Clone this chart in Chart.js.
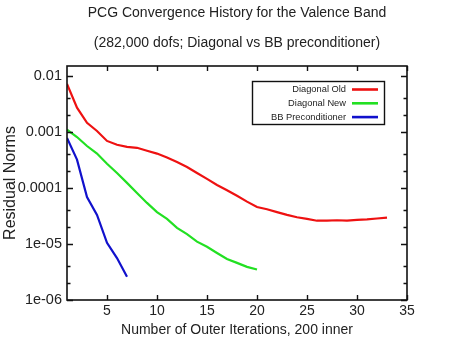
<!DOCTYPE html>
<html>
<head>
<meta charset="utf-8">
<script src="https://cdn.jsdelivr.net/npm/chart.js@4/dist/chart.umd.min.js"></script>
<style>
  html, body { margin: 0; padding: 0; background: #ffffff; }
  canvas { display: block; }
</style>
</head>
<body>
<canvas id="c" width="474" height="339"></canvas>
<script>
// ---- data ----
const oldIter = [1,2,3,4,5,6,7,8,9,10,11,12,13,14,15,16,17,18,19,20,21,22,23,24,25,26,27,28,29,30,31,32,33];
const oldVals = [0.0072,0.0027,0.00145,0.00104,0.00069,0.00059,0.00054,0.00052,0.00046,0.00041,
                 0.00035,0.00029,0.000237,0.000185,0.000145,0.000113,0.0000912,0.0000724,0.0000569,0.0000457,
                 0.0000417,0.000037,0.000033,0.000030,0.000028,0.000026,0.000026,0.0000265,0.000026,0.000027,
                 0.0000275,0.0000285,0.0000295];
const newIter = [1,2,3,4,5,6,7,8,9,10,11,12,13,14,15,16,17,18,19,20];
const newVals = [0.0011,0.00081,0.00056,0.00041,0.00027,0.000185,0.000123,0.000081,0.000054,0.000037,
                 0.000028,0.0000194,0.000015,0.000011,0.0000089,0.0000069,0.0000054,0.0000046,0.0000039,0.0000035];
const bbIter = [1,2,3,4,5,6,7];
const bbVals = [0.00078,0.00032,0.000069,0.000033,0.0000105,0.0000056,0.0000026];

const seriesNames = ['Diagonal Old','Diagonal New','BB Preconditioner'];
const xTickValues = [5,10,15,20,25,30,35];
const yTickValues = [1e-6,1e-5,1e-4,1e-3,1e-2];
const yTickLabels = ['1e-06','1e-05','0.0001','0.001','0.01'];
const yMinorFactors = [2,4];
const titleText = 'PCG Convergence History for the Valence Band';
const subtitleText = '(282,000 dofs; Diagonal vs BB preconditioner)';
const xTitle = 'Number of Outer Iterations, 200 inner';
const yTitle = 'Residual Norms';

const toPts = (xs, ys) => xs.map((x, i) => ({x: x, y: ys[i]}));

const FONT = "'Liberation Sans', Arial, sans-serif";
Chart.defaults.font.family = FONT;
Chart.defaults.color = '#222222';

const frame = {
  id: 'frame',
  afterDraw(chart) {
    const ctx = chart.ctx;
    const {left, right, top, bottom} = chart.chartArea;
    const xs = chart.scales.x, ys = chart.scales.y;
    ctx.save();
    ctx.strokeStyle = '#111111';
    ctx.lineWidth = 1.6;
    ctx.strokeRect(left, top, right - left, bottom - top);
    ctx.lineWidth = 1.4;
    ys.ticks.forEach(t => {
      const py = Math.round(ys.getPixelForValue(t.value)) + 0.5;
      const major = yTickValues.some(v => Math.abs(Math.log10(v) - Math.log10(t.value)) < 1e-6);
      const len = major ? 6 : 3.5;
      ctx.beginPath();
      ctx.moveTo(left, py); ctx.lineTo(left + len, py);
      ctx.moveTo(right, py); ctx.lineTo(right - len, py);
      ctx.stroke();
    });
    xTickValues.forEach(v => {
      const px = Math.round(xs.getPixelForValue(v)) + 0.5;
      ctx.beginPath();
      ctx.moveTo(px, bottom); ctx.lineTo(px, bottom - 5);
      ctx.moveTo(px, top); ctx.lineTo(px, top + 5);
      ctx.stroke();
    });
    // legend box
    const bx = 252, by = 81, bw = 132, bh = 43;
    ctx.fillStyle = '#ffffff';
    ctx.fillRect(bx, by, bw, bh);
    ctx.lineWidth = 1.4;
    ctx.strokeStyle = '#111111';
    ctx.strokeRect(bx + 0.5, by + 0.5, bw, bh);
    ctx.font = '9.3px ' + FONT;
    ctx.textAlign = 'right';
    ctx.textBaseline = 'middle';
    chart.data.datasets.forEach((ds, i) => {
      const ly = by + 8.5 + i * 13.8;
      ctx.fillStyle = '#222222';
      ctx.fillText(ds.label, bx + 94, ly);
      ctx.strokeStyle = ds.borderColor;
      ctx.lineWidth = 2.6;
      ctx.beginPath();
      ctx.moveTo(bx + 100, ly); ctx.lineTo(bx + 126, ly);
      ctx.stroke();
    });
    ctx.restore();
  }
};

new Chart(document.getElementById('c'), {
  type: 'line',
  data: {
    datasets: [
      {label: seriesNames[0], data: toPts(oldIter, oldVals), borderColor: '#ee1111', borderWidth: 2.2},
      {label: seriesNames[1], data: toPts(newIter, newVals), borderColor: '#22e022', borderWidth: 2.2},
      {label: seriesNames[2], data: toPts(bbIter, bbVals), borderColor: '#1111cc', borderWidth: 2.2}
    ]
  },
  options: {
    responsive: false,
    animation: false,
    devicePixelRatio: 1,
    elements: { point: { radius: 0 }, line: { tension: 0, fill: false } },
    layout: { padding: { left: 0, right: 0, top: 0, bottom: 0 } },
    plugins: {
      legend: { display: false },
      tooltip: { enabled: false },
      title: { display: true, text: titleText, color: '#222222',
               font: { size: 14, weight: 'normal', lineHeight: 1.2 }, padding: { top: 5, bottom: 0 } },
      subtitle: { display: true, text: subtitleText, color: '#222222',
                  font: { size: 14, weight: 'normal', lineHeight: 1.2 }, padding: { top: 13.4, bottom: 14 } }
    },
    scales: {
      x: {
        type: 'linear', min: 1, max: 35,
        grid: { display: false, drawTicks: false },
        border: { display: false },
        afterBuildTicks: s => { s.ticks = xTickValues.map(v => ({value: v})); },
        afterFit: s => { s.height = 39; },
        ticks: { font: { size: 14 }, padding: 3, color: '#222222', maxRotation: 0, autoSkip: false,
                 callback: v => String(v) },
        title: { display: true, text: xTitle, font: { size: 14 }, color: '#222222', padding: { top: 0, bottom: 0 } }
      },
      y: {
        type: 'logarithmic', min: 1e-6, max: 0.015,
        grid: { display: false, drawTicks: false },
        border: { display: false },
        afterBuildTicks: s => {
          const t = [];
          yTickValues.forEach(v => {
            t.push({value: v});
            if (v < 1e-2) yMinorFactors.forEach(f => t.push({value: v * f}));
          });
          s.ticks = t.sort((a, b) => a.value - b.value);
        },
        afterFit: s => { s.width = 67; },
        ticks: { font: { size: 14.5 }, padding: 5, color: '#222222', autoSkip: false,
                 callback: v => {
                   const i = yTickValues.findIndex(m => Math.abs(Math.log10(m) - Math.log10(v)) < 1e-6);
                   return i >= 0 ? yTickLabels[i] : '';
                 } },
        title: { display: true, text: yTitle, font: { size: 16 }, color: '#222222', padding: { top: 1, bottom: 0 } }
      },
      yRight: {
        type: 'linear', position: 'right', display: true,
        grid: { display: false, drawTicks: false },
        border: { display: false },
        ticks: { display: false },
        afterFit: s => { s.width = 67; }
      }
    }
  },
  plugins: [frame]
});
</script>
</body>
</html>
